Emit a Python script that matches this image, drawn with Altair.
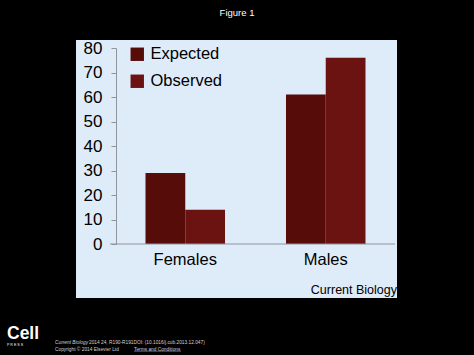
import altair as alt
import pandas as pd

groups = ["Females", "Females", "Males", "Males"]
series = ["Expected", "Observed", "Expected", "Observed"]
values = [29, 14, 61, 76]
series_names = ["Expected", "Observed"]
series_colors = ["#560d09", "#6a1311"]
y_ticks = [0, 10, 20, 30, 40, 50, 60, 70, 80]

FONT = "Liberation Sans"
W, H = 279, 196

df = pd.DataFrame({"group": groups, "series": series, "value": values})

panel = alt.Chart(pd.DataFrame({"a": [0]})).mark_rect(
    color="#deebf9"
).encode(
    x=alt.value(-40), x2=alt.value(281), y=alt.value(-8), y2=alt.value(250)
)

bars = alt.Chart(df).mark_bar(strokeWidth=0).encode(
    x=alt.X(
        "group:N",
        title=None,
        sort=["Females", "Males"],
        scale=alt.Scale(paddingInner=0.434, paddingOuter=0.21, align=0.5),
        axis=alt.Axis(
            domain=False, ticks=False, labelAngle=0, labelFont=FONT,
            labelFontSize=16.5, labelColor="#000000", labelPadding=7, zindex=1,
        ),
    ),
    xOffset=alt.XOffset("series:N", sort=series_names,
                        scale=alt.Scale(paddingInner=0, paddingOuter=0)),
    y=alt.Y(
        "value:Q",
        title=None,
        scale=alt.Scale(domain=[0, 80], nice=False, zero=True),
        axis=alt.Axis(
            values=y_ticks, tickCount=9, labelOverlap=False, grid=False,
            domainColor="#8f959c", domainWidth=1,
            tickColor="#8f959c", tickSize=5, tickWidth=1, labelFont=FONT,
            labelFontSize=17, labelColor="#000000", labelPadding=9, zindex=1,
        ),
    ),
    color=alt.Color(
        "series:N",
        sort=series_names,
        scale=alt.Scale(domain=series_names, range=series_colors),
        legend=alt.Legend(
            title=None, orient="none", legendX=13, legendY=-2,
            symbolType="square", symbolSize=180, symbolStrokeWidth=0,
            symbolOpacity=1, labelFont=FONT, labelFontSize=16.5,
            labelColor="#000000", rowPadding=10, labelOffset=5, padding=0,
        ),
    ),
)

baseline = alt.Chart(pd.DataFrame({"v": [0]})).mark_rule(
    color="#8f959c", strokeWidth=1.2
).encode(y=alt.Y("v:Q"), x=alt.value(-6), x2=alt.value(W))

def txt(s, x, y, size, color, align="left", weight="normal", style="normal"):
    return alt.Chart(pd.DataFrame({"t": [s]})).mark_text(
        font=FONT, fontSize=size, color=color, align=align,
        fontWeight=weight, fontStyle=style, baseline="alphabetic",
    ).encode(text="t:N", x=alt.value(x), y=alt.value(y))

title = txt("Figure 1", 121, -32.5, 9.5, "#ffffff", align="center")
cb = txt("Current Biology", 281, 245.5, 12.5, "#000000", align="right")
cell = txt("Cell", -109, 290.5, 17.5, "#ffffff", weight="bold")
press = txt("P  R  E  S  S", -109, 297.5, 3.6, "#ffffff")
line1a = txt("Current Biology", -61, 295.5, 4.8, "#d0d0d0", style="italic")
line1b = txt("2014 24, R190-R191DOI: (10.1016/j.cub.2013.12.047)", -27, 295.5, 4.8, "#d0d0d0")
line2a = txt("Copyright © 2014 Elsevier Ltd", -61, 302.5, 4.8, "#d0d0d0")
line2b = txt("Terms and Conditions", 18, 302.5, 4.8, "#c8cbe0")
underline = alt.Chart(pd.DataFrame({"a": [0]})).mark_rule(
    color="#9aa0c0", strokeWidth=0.5
).encode(x=alt.value(18), x2=alt.value(65), y=alt.value(303.3))

chart = alt.layer(
    panel, bars, baseline, title, cb, cell, press,
    line1a, line1b, line2a, line2b, underline,
).properties(
    width=W, height=H,
    autosize=alt.AutoSizeParams(type="none"),
    padding={"left": 116, "top": 48, "right": 79, "bottom": 111},
    background="#000000",
).configure_view(stroke=None, fill=None)

chart.save("out.html", embed_options={"renderer": "svg", "actions": False})
